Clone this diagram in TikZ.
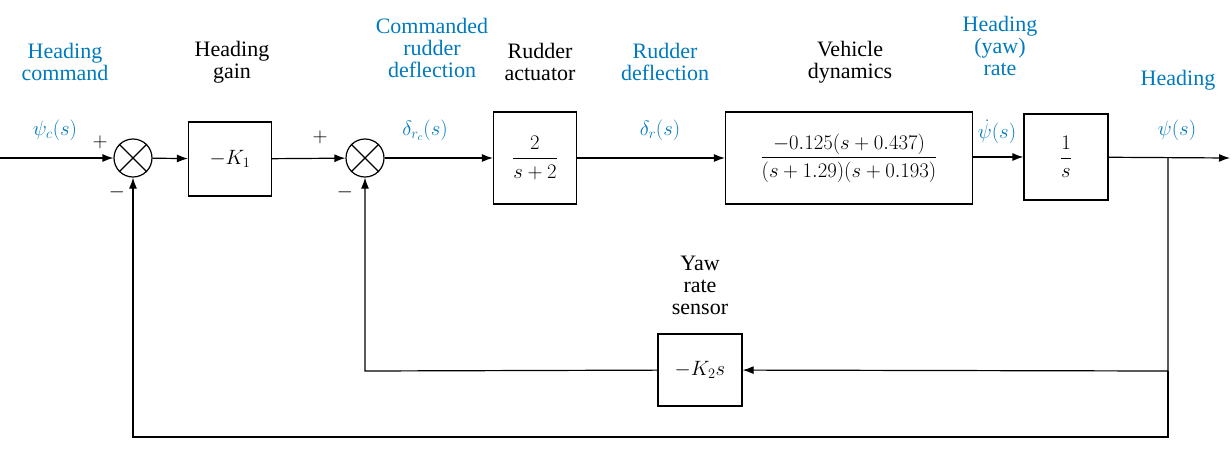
\documentclass[tikz,border=0pt]{standalone}
\usepackage{amsmath}
\usepackage{fontspec}
\setmainfont{Liberation Serif}
\usetikzlibrary{arrows.meta}
\definecolor{lblue}{RGB}{0,122,190}
\begin{document}
\begin{tikzpicture}[x=1pt,y=-1pt,
  every node/.style={font=\fontsize{22}{22}\selectfont},
  blk/.style={draw,line width=1.2pt,minimum height=74pt,inner sep=0pt},
  sum/.style={draw,line width=1.2pt,circle,minimum size=38pt,inner sep=0pt},
  lbl/.style={align=center,text=lblue},
  txt/.style={align=center},
  ln/.style={line width=1.2pt},
  arr/.style={ln,-{Latex[length=11pt,width=8pt]}}]
\useasboundingbox (0,0) rectangle (1232,456);
\node[sum] (s1) at (133,158) {};
\draw[ln] (s1.north west)--(s1.south east) (s1.north east)--(s1.south west);
\node[sum] (s2) at (365,158) {};
\draw[ln] (s2.north west)--(s2.south east) (s2.north east)--(s2.south west);
\node[blk,minimum width=83pt] (k1) at (230,159) {$-K_1$};
\node[blk,minimum width=83pt,minimum height=92pt] (act) at (535,158) {$\dfrac{2}{s+2}$};
\node[blk,minimum width=247pt,minimum height=92pt] (veh) at (849,158) {$\dfrac{-0.125(s+0.437)}{(s+1.29)(s+0.193)}$};
\node[blk,minimum width=84pt,minimum height=86pt] (int) at (1066,157) {$\dfrac{1}{s}$};
\node[blk,minimum width=84pt,minimum height=72pt] (sen) at (700,370) {$-K_2s$};
\coordinate (in) at (0,158);
\coordinate (out) at (1230,158);
\coordinate (tap) at (1168,158);
\coordinate (tapa) at (1168,371);
\coordinate (tapb) at (1168,437);
\coordinate (c1) at (365,371);
\coordinate (c2) at (133,437);
\draw[arr] (in)--(s1);
\draw[arr] (s1)--(k1);
\draw[arr] (k1)--(s2);
\draw[arr] (s2)--(act.west|-s2);
\draw[arr] (act)--(veh);
\draw[arr] (veh.east|-int)--(int);
\draw[arr] (int)--(out);
\draw[arr] (tap)--(tapa)--(sen);
\draw[arr] (sen)--(c1)--(s2);
\draw[arr] (tapa)--(tapb)--(c2)--(s1);
\node[lbl] at (65,62) {Heading\\command};
\node[lbl] at (55,130) {$\psi_c(s)$};
\node at (100,142) {$+$};
\node at (117,192) {$-$};
\node[txt] at (232,62) {Heading\\gain};
\node at (320,137) {$+$};
\node at (345,192) {$-$};
\node[lbl] at (432,48) {Commanded\\rudder\\deflection};
\node[lbl] at (425,130) {$\delta_{r_c}(s)$};
\node[txt] at (540,62) {Rudder\\actuator};
\node[lbl] at (665,62) {Rudder\\deflection};
\node[lbl] at (660,130) {$\delta_r(s)$};
\node[txt] at (850,62) {Vehicle\\dynamics};
\node[lbl] at (1000,46) {Heading\\(yaw)\\rate};
\node[lbl] at (997,132) {$\dot\psi(s)$};
\node[lbl] at (1178,80) {Heading};
\node[lbl] at (1177,130) {$\psi(s)$};
\node[txt] at (700,285) {Yaw\\rate\\sensor};
\end{tikzpicture}
\end{document}
